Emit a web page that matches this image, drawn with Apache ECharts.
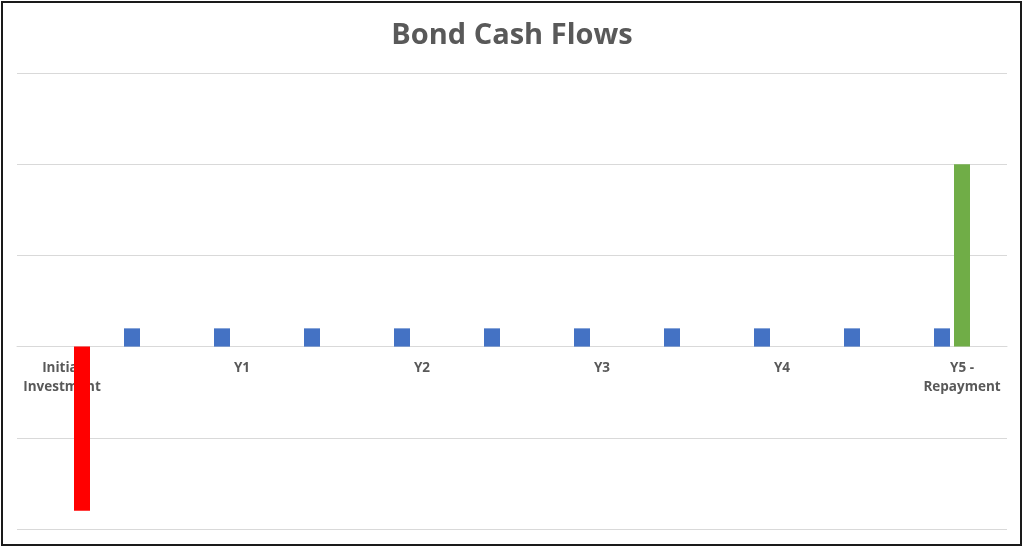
<!DOCTYPE html>
<html>
<head>
<meta charset="utf-8">
<script src="https://cdn.jsdelivr.net/npm/echarts@6/dist/echarts.min.js"></script>
<style>
  html, body { margin: 0; padding: 0; background: #fff; }
  #chart { position: absolute; left: 0; top: 0; width: 1024px; height: 547px; }
  #frame { position: absolute; left: 1px; top: 1px; width: 1021px; height: 545px; box-sizing: border-box; border: 2px solid #1a1a1a; pointer-events: none; }
</style>
</head>
<body>
<div id="chart"></div>
<div id="frame"></div>
<script>
const title = 'Bond Cash Flows';
const categories = ['Initial\nInvestment', '', 'Y1', '', 'Y2', '', 'Y3', '', 'Y4', '', 'Y5 -\nRepayment'];
const coupons    = ['-', 10, 10, 10, 10, 10, 10, 10, 10, 10, 10];
const repayment  = ['-', '-', '-', '-', '-', '-', '-', '-', '-', '-', 100];
const investment = [-90, '-', '-', '-', '-', '-', '-', '-', '-', '-', '-'];

const yMin = -100, yMax = 150;
const gridTop = 73, gridBottom = 18, chartH = 547;
// move the category axis (line + labels) up to the zero line
const plotH = chartH - gridTop - gridBottom;
const zeroOffset = -plotH * (0 - yMin) / (yMax - yMin);

const chart = echarts.init(document.getElementById('chart'), null, { renderer: 'canvas' });
chart.setOption({
  animation: false,
  backgroundColor: '#ffffff',
  title: {
    text: title,
    left: 'center',
    top: 16,
    textStyle: { fontFamily: 'Open Sans', fontWeight: 'bold', fontSize: 29, color: '#595959' }
  },
  grid: { left: 17, right: 17, top: gridTop, bottom: gridBottom, containLabel: false, outerBoundsMode: 'none' },
  xAxis: {
    type: 'category',
    data: categories,
    offset: zeroOffset,
    axisLine: { onZero: false, lineStyle: { color: '#D9D9D9', width: 1 } },
    axisTick: { show: false },
    axisLabel: {
      interval: 0,
      margin: 12,
      fontFamily: 'Open Sans',
      fontWeight: 'bold',
      fontSize: 13.5,
      lineHeight: 19,
      color: '#595959'
    }
  },
  yAxis: {
    type: 'value',
    min: yMin,
    max: yMax,
    interval: 50,
    axisLabel: { show: false },
    axisLine: { show: false },
    axisTick: { show: false },
    splitLine: { lineStyle: { color: '#D9D9D9', width: 1 } }
  },
  series: [
    { name: 'Coupons', type: 'bar', data: coupons, barWidth: 16, barGap: '25%', itemStyle: { color: '#4472C4' } },
    { name: 'Repayment', type: 'bar', data: repayment, barWidth: 16, barGap: '25%', itemStyle: { color: '#70AD47' } },
    { name: 'Investment', type: 'bar', data: investment, barWidth: 16, barGap: '25%', itemStyle: { color: '#FF0000' } }
  ]
});
</script>
</body>
</html>
